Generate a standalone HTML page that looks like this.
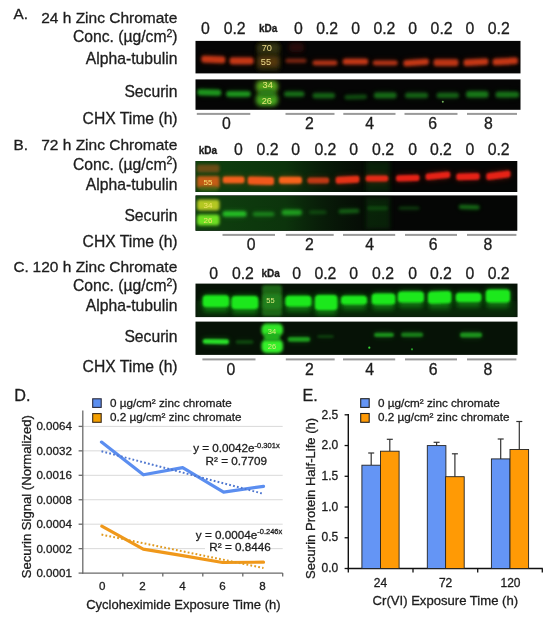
<!DOCTYPE html>
<html><head><meta charset="utf-8"><style>
html,body{margin:0;padding:0;background:#fff;}
body{width:550px;height:619px;overflow:hidden;}
svg{display:block;font-family:'Liberation Sans', Arial, sans-serif;}
text{stroke:#1d1d1d;stroke-width:0.3px;}
text.lad{stroke:none;}
</style></head><body>
<svg width="550" height="619" viewBox="0 0 550 619">
<defs>
<clipPath id="cA1"><rect x="195.5" y="40.9" width="325" height="32.5"/></clipPath>
<clipPath id="cA2"><rect x="195.5" y="79.4" width="325" height="30.4"/></clipPath>
<clipPath id="cB1"><rect x="195.5" y="161" width="321.8" height="31"/></clipPath>
<clipPath id="cB2"><rect x="195.5" y="195.4" width="321.8" height="35.4"/></clipPath>
<clipPath id="cC1"><rect x="195.5" y="283.6" width="322" height="33.5"/></clipPath>
<clipPath id="cC2"><rect x="195.5" y="321.6" width="322" height="33.3"/></clipPath>
<filter id="b13" x="-50%" y="-200%" width="200%" height="500%"><feGaussianBlur stdDeviation="1.3"/></filter>
<filter id="b12" x="-50%" y="-200%" width="200%" height="500%"><feGaussianBlur stdDeviation="1.2"/></filter>
<filter id="b15" x="-50%" y="-200%" width="200%" height="500%"><feGaussianBlur stdDeviation="1.5"/></filter>
<filter id="b2" x="-50%" y="-200%" width="200%" height="500%"><feGaussianBlur stdDeviation="2"/></filter>
<filter id="b25" x="-50%" y="-200%" width="200%" height="500%"><feGaussianBlur stdDeviation="2.5"/></filter>
<filter id="b3" x="-50%" y="-200%" width="200%" height="500%"><feGaussianBlur stdDeviation="3"/></filter>
<linearGradient id="gB" x1="0" x2="1" y1="0" y2="0"><stop offset="0" stop-color="#0f400f" stop-opacity="1"/><stop offset="0.45" stop-color="#0c340c" stop-opacity="1"/><stop offset="0.62" stop-color="#092209" stop-opacity="0.85"/><stop offset="1" stop-color="#061206" stop-opacity="0"/></linearGradient>
</defs>
<text x="13.6" y="19.4" font-size="15.3" text-anchor="start" fill="#1d1d1d" >A.</text>
<text x="177.3" y="22.6" font-size="15.5" text-anchor="end" fill="#1d1d1d" >24 h Zinc Chromate</text>
<text x="177.6" y="42" font-size="15.7" text-anchor="end" fill="#1d1d1d">Conc. (µg/cm<tspan font-size="10.5" dy="-5.5">2</tspan><tspan dy="5.5">)</tspan></text>
<text x="177.4" y="64.2" font-size="15.7" text-anchor="end" fill="#1d1d1d" >Alpha-tubulin</text>
<text x="177.6" y="96.7" font-size="15.7" text-anchor="end" fill="#1d1d1d" >Securin</text>
<text x="177.6" y="123.5" font-size="15.7" text-anchor="end" fill="#1d1d1d" >CHX Time (h)</text>
<text x="13.6" y="149.9" font-size="15.3" text-anchor="start" fill="#1d1d1d" >B.</text>
<text x="177.3" y="150.2" font-size="15.5" text-anchor="end" fill="#1d1d1d" >72 h Zinc Chromate</text>
<text x="177.6" y="169.8" font-size="15.7" text-anchor="end" fill="#1d1d1d">Conc. (µg/cm<tspan font-size="10.5" dy="-5.5">2</tspan><tspan dy="5.5">)</tspan></text>
<text x="177.4" y="189.5" font-size="15.7" text-anchor="end" fill="#1d1d1d" >Alpha-tubulin</text>
<text x="177.6" y="220.6" font-size="15.7" text-anchor="end" fill="#1d1d1d" >Securin</text>
<text x="177.6" y="246.5" font-size="15.7" text-anchor="end" fill="#1d1d1d" >CHX Time (h)</text>
<text x="13.4" y="272" font-size="15.3" text-anchor="start" fill="#1d1d1d" >C.</text>
<text x="177.3" y="272" font-size="15.5" text-anchor="end" fill="#1d1d1d" >120 h Zinc Chromate</text>
<text x="177.6" y="291" font-size="15.7" text-anchor="end" fill="#1d1d1d">Conc. (µg/cm<tspan font-size="10.5" dy="-5.5">2</tspan><tspan dy="5.5">)</tspan></text>
<text x="177.4" y="310.9" font-size="15.7" text-anchor="end" fill="#1d1d1d" >Alpha-tubulin</text>
<text x="177.6" y="342.4" font-size="15.7" text-anchor="end" fill="#1d1d1d" >Securin</text>
<text x="177.6" y="372.3" font-size="15.7" text-anchor="end" fill="#1d1d1d" >CHX Time (h)</text>
<text x="201.0" y="33.8" font-size="15.8" text-anchor="start" fill="#1d1d1d" >0</text>
<text x="223.70000000000002" y="33.8" font-size="15.8" text-anchor="start" fill="#1d1d1d" >0.2</text>
<text x="259.0" y="31.9" font-size="10" text-anchor="start" fill="#1d1d1d" font-weight="bold" >kDa</text>
<text x="293.90000000000003" y="33.8" font-size="15.8" text-anchor="start" fill="#1d1d1d" >0</text>
<text x="316.2" y="33.8" font-size="15.8" text-anchor="start" fill="#1d1d1d" >0.2</text>
<text x="351.2" y="33.8" font-size="15.8" text-anchor="start" fill="#1d1d1d" >0</text>
<text x="373.40000000000003" y="33.8" font-size="15.8" text-anchor="start" fill="#1d1d1d" >0.2</text>
<text x="408.3" y="33.8" font-size="15.8" text-anchor="start" fill="#1d1d1d" >0</text>
<text x="430.6" y="33.8" font-size="15.8" text-anchor="start" fill="#1d1d1d" >0.2</text>
<text x="465.6" y="33.8" font-size="15.8" text-anchor="start" fill="#1d1d1d" >0</text>
<text x="487.8" y="33.8" font-size="15.8" text-anchor="start" fill="#1d1d1d" >0.2</text>
<text x="198.8" y="153.5" font-size="10" text-anchor="start" fill="#1d1d1d" font-weight="bold" >kDa</text>
<text x="234.0" y="155" font-size="15.8" text-anchor="start" fill="#1d1d1d" >0</text>
<text x="256.6" y="155" font-size="15.8" text-anchor="start" fill="#1d1d1d" >0.2</text>
<text x="291.2" y="155" font-size="15.8" text-anchor="start" fill="#1d1d1d" >0</text>
<text x="314.40000000000003" y="155" font-size="15.8" text-anchor="start" fill="#1d1d1d" >0.2</text>
<text x="349.2" y="155" font-size="15.8" text-anchor="start" fill="#1d1d1d" >0</text>
<text x="372.1" y="155" font-size="15.8" text-anchor="start" fill="#1d1d1d" >0.2</text>
<text x="408.2" y="155" font-size="15.8" text-anchor="start" fill="#1d1d1d" >0</text>
<text x="429.90000000000003" y="155" font-size="15.8" text-anchor="start" fill="#1d1d1d" >0.2</text>
<text x="465.5" y="155" font-size="15.8" text-anchor="start" fill="#1d1d1d" >0</text>
<text x="487.7" y="155" font-size="15.8" text-anchor="start" fill="#1d1d1d" >0.2</text>
<text x="209.20000000000002" y="279.4" font-size="15.8" text-anchor="start" fill="#1d1d1d" >0</text>
<text x="231.9" y="279.4" font-size="15.8" text-anchor="start" fill="#1d1d1d" >0.2</text>
<text x="261.5" y="277.2" font-size="10" text-anchor="start" fill="#1d1d1d" font-weight="bold" >kDa</text>
<text x="292.2" y="279.4" font-size="15.8" text-anchor="start" fill="#1d1d1d" >0</text>
<text x="314.40000000000003" y="279.4" font-size="15.8" text-anchor="start" fill="#1d1d1d" >0.2</text>
<text x="349.2" y="279.4" font-size="15.8" text-anchor="start" fill="#1d1d1d" >0</text>
<text x="372.1" y="279.4" font-size="15.8" text-anchor="start" fill="#1d1d1d" >0.2</text>
<text x="408.2" y="279.4" font-size="15.8" text-anchor="start" fill="#1d1d1d" >0</text>
<text x="429.90000000000003" y="279.4" font-size="15.8" text-anchor="start" fill="#1d1d1d" >0.2</text>
<text x="465.5" y="279.4" font-size="15.8" text-anchor="start" fill="#1d1d1d" >0</text>
<text x="487.7" y="279.4" font-size="15.8" text-anchor="start" fill="#1d1d1d" >0.2</text>
<rect x="196.8" y="112.9" width="53.5" height="2" fill="#9a9a9a" />
<rect x="285.5" y="112.9" width="49.0" height="2" fill="#9a9a9a" />
<rect x="343.3" y="112.9" width="52.19999999999999" height="2" fill="#9a9a9a" />
<rect x="404.5" y="112.9" width="53.0" height="2" fill="#9a9a9a" />
<rect x="467" y="112.9" width="50" height="2" fill="#9a9a9a" />
<text x="226.5" y="128.6" font-size="15.8" text-anchor="middle" fill="#1d1d1d" >0</text>
<text x="309.3" y="128.6" font-size="15.8" text-anchor="middle" fill="#1d1d1d" >2</text>
<text x="369.7" y="128.6" font-size="15.8" text-anchor="middle" fill="#1d1d1d" >4</text>
<text x="432.6" y="128.6" font-size="15.8" text-anchor="middle" fill="#1d1d1d" >6</text>
<text x="488.4" y="128.6" font-size="15.8" text-anchor="middle" fill="#1d1d1d" >8</text>
<rect x="222.5" y="233.9" width="52.5" height="2" fill="#9a9a9a" />
<rect x="285.8" y="233.9" width="47.89999999999998" height="2" fill="#9a9a9a" />
<rect x="343" y="233.9" width="52.19999999999999" height="2" fill="#9a9a9a" />
<rect x="405" y="233.9" width="52" height="2" fill="#9a9a9a" />
<rect x="467" y="233.9" width="49.39999999999998" height="2" fill="#9a9a9a" />
<text x="251.1" y="250.2" font-size="15.8" text-anchor="middle" fill="#1d1d1d" >0</text>
<text x="309.5" y="250.2" font-size="15.8" text-anchor="middle" fill="#1d1d1d" >2</text>
<text x="369.6" y="250.2" font-size="15.8" text-anchor="middle" fill="#1d1d1d" >4</text>
<text x="433.1" y="250.2" font-size="15.8" text-anchor="middle" fill="#1d1d1d" >6</text>
<text x="487.9" y="250.2" font-size="15.8" text-anchor="middle" fill="#1d1d1d" >8</text>
<rect x="202.4" y="358.4" width="53.099999999999994" height="2" fill="#9a9a9a" />
<rect x="285.8" y="358.4" width="48.89999999999998" height="2" fill="#9a9a9a" />
<rect x="343" y="358.4" width="52.19999999999999" height="2" fill="#9a9a9a" />
<rect x="405" y="358.4" width="52" height="2" fill="#9a9a9a" />
<rect x="467" y="358.4" width="49.39999999999998" height="2" fill="#9a9a9a" />
<text x="230.9" y="374.5" font-size="15.8" text-anchor="middle" fill="#1d1d1d" >0</text>
<text x="309.5" y="374.5" font-size="15.8" text-anchor="middle" fill="#1d1d1d" >2</text>
<text x="369.6" y="374.5" font-size="15.8" text-anchor="middle" fill="#1d1d1d" >4</text>
<text x="433.1" y="374.5" font-size="15.8" text-anchor="middle" fill="#1d1d1d" >6</text>
<text x="487.9" y="374.5" font-size="15.8" text-anchor="middle" fill="#1d1d1d" >8</text>
<rect x="195.5" y="40.9" width="325" height="32.5" fill="#050505" />
<g clip-path="url(#cA1)">
<rect x="257" y="43" width="23" height="28" rx="4" fill="#262608" opacity="0.9" filter="url(#b2)"/>
<rect x="258" y="43.5" width="21" height="8.5" rx="4" fill="#3a3a12" opacity="0.8" filter="url(#b2)"/>
<rect x="258" y="56.5" width="21" height="10.5" rx="4" fill="#5a3a10" opacity="0.9" filter="url(#b2)"/>
<rect x="289" y="43" width="15" height="9" rx="4" fill="#3a0a08" opacity="0.7" filter="url(#b2)"/>
<path d="M203.7,55.7 L223.0,56.5 Q225.2,56.5 225.2,58.7 L225.2,61.099999999999994 Q225.2,63.3 223.0,63.3 L203.7,62.5 Q201.5,62.5 201.5,60.3 L201.5,57.900000000000006 Q201.5,55.7 203.7,55.7 Z" fill="#d23a18" opacity="0.276" filter="url(#b3)"/>
<path d="M203.7,55.7 L223.0,56.5 Q225.2,56.5 225.2,58.7 L225.2,61.099999999999994 Q225.2,63.3 223.0,63.3 L203.7,62.5 Q201.5,62.5 201.5,60.3 L201.5,57.900000000000006 Q201.5,55.7 203.7,55.7 Z" fill="#d23a18" opacity="0.92" filter="url(#b15)"/>
<path d="M231.89999999999998,57.6 L251.3,57.6 Q253.5,57.6 253.5,59.800000000000004 L253.5,62.0 Q253.5,64.2 251.3,64.2 L231.89999999999998,64.2 Q229.7,64.2 229.7,62.0 L229.7,59.800000000000004 Q229.7,57.6 231.89999999999998,57.6 Z" fill="#d23a18" opacity="0.276" filter="url(#b3)"/>
<path d="M231.89999999999998,57.6 L251.3,57.6 Q253.5,57.6 253.5,59.800000000000004 L253.5,62.0 Q253.5,64.2 251.3,64.2 L231.89999999999998,64.2 Q229.7,64.2 229.7,62.0 L229.7,59.800000000000004 Q229.7,57.6 231.89999999999998,57.6 Z" fill="#d23a18" opacity="0.92" filter="url(#b15)"/>
<path d="M287.59999999999997,58.8 L304.40000000000003,58.8 Q306.6,58.8 306.6,61.0 L306.6,60.599999999999994 Q306.6,62.8 304.40000000000003,62.8 L287.59999999999997,62.8 Q285.4,62.8 285.4,60.599999999999994 L285.4,61.0 Q285.4,58.8 287.59999999999997,58.8 Z" fill="#d23a18" opacity="0.1656" filter="url(#b3)"/>
<path d="M287.59999999999997,58.8 L304.40000000000003,58.8 Q306.6,58.8 306.6,61.0 L306.6,60.599999999999994 Q306.6,62.8 304.40000000000003,62.8 L287.59999999999997,62.8 Q285.4,62.8 285.4,60.599999999999994 L285.4,61.0 Q285.4,58.8 287.59999999999997,58.8 Z" fill="#d23a18" opacity="0.552" filter="url(#b15)"/>
<path d="M314.8,60.5 L335.2,60.5 Q337.4,60.5 337.4,62.7 L337.4,63.0 Q337.4,65.2 335.2,65.2 L314.8,65.2 Q312.6,65.2 312.6,63.0 L312.6,62.7 Q312.6,60.5 314.8,60.5 Z" fill="#d23a18" opacity="0.2484" filter="url(#b3)"/>
<path d="M314.8,60.5 L335.2,60.5 Q337.4,60.5 337.4,62.7 L337.4,63.0 Q337.4,65.2 335.2,65.2 L314.8,65.2 Q312.6,65.2 312.6,63.0 L312.6,62.7 Q312.6,60.5 314.8,60.5 Z" fill="#d23a18" opacity="0.8280000000000001" filter="url(#b15)"/>
<path d="M345.0,58.8 L365.90000000000003,58.8 Q368.1,58.8 368.1,61.0 L368.1,62.3 Q368.1,64.5 365.90000000000003,64.5 L345.0,64.5 Q342.8,64.5 342.8,62.3 L342.8,61.0 Q342.8,58.8 345.0,58.8 Z" fill="#d23a18" opacity="0.276" filter="url(#b3)"/>
<path d="M345.0,58.8 L365.90000000000003,58.8 Q368.1,58.8 368.1,61.0 L368.1,62.3 Q368.1,64.5 365.90000000000003,64.5 L345.0,64.5 Q342.8,64.5 342.8,62.3 L342.8,61.0 Q342.8,58.8 345.0,58.8 Z" fill="#d23a18" opacity="0.92" filter="url(#b15)"/>
<path d="M375.0,60.5 L395.5,60.5 Q397.7,60.5 397.7,62.7 L397.7,63.0 Q397.7,65.2 395.5,65.2 L375.0,65.2 Q372.8,65.2 372.8,63.0 L372.8,62.7 Q372.8,60.5 375.0,60.5 Z" fill="#d23a18" opacity="0.2484" filter="url(#b3)"/>
<path d="M375.0,60.5 L395.5,60.5 Q397.7,60.5 397.7,62.7 L397.7,63.0 Q397.7,65.2 395.5,65.2 L375.0,65.2 Q372.8,65.2 372.8,63.0 L372.8,62.7 Q372.8,60.5 375.0,60.5 Z" fill="#d23a18" opacity="0.8280000000000001" filter="url(#b15)"/>
<path d="M405.7,60.3 L426.6,58.8 Q428.8,58.8 428.8,61.0 L428.8,62.599999999999994 Q428.8,64.8 426.6,64.8 L405.7,66.3 Q403.5,66.3 403.5,64.1 L403.5,62.5 Q403.5,60.3 405.7,60.3 Z" fill="#d23a18" opacity="0.276" filter="url(#b3)"/>
<path d="M405.7,60.3 L426.6,58.8 Q428.8,58.8 428.8,61.0 L428.8,62.599999999999994 Q428.8,64.8 426.6,64.8 L405.7,66.3 Q403.5,66.3 403.5,64.1 L403.5,62.5 Q403.5,60.3 405.7,60.3 Z" fill="#d23a18" opacity="0.92" filter="url(#b15)"/>
<path d="M435.9,59.2 L456.1,59.2 Q458.3,59.2 458.3,61.400000000000006 L458.3,63.8 Q458.3,66 456.1,66 L435.9,66 Q433.7,66 433.7,63.8 L433.7,61.400000000000006 Q433.7,59.2 435.9,59.2 Z" fill="#d23a18" opacity="0.2622" filter="url(#b3)"/>
<path d="M435.9,59.2 L456.1,59.2 Q458.3,59.2 458.3,61.400000000000006 L458.3,63.8 Q458.3,66 456.1,66 L435.9,66 Q433.7,66 433.7,63.8 L433.7,61.400000000000006 Q433.7,59.2 435.9,59.2 Z" fill="#d23a18" opacity="0.874" filter="url(#b15)"/>
<path d="M465.9,59.6 L486.1,58.4 Q488.3,58.4 488.3,60.6 L488.3,62.599999999999994 Q488.3,64.8 486.1,64.8 L465.9,66 Q463.7,66 463.7,63.8 L463.7,61.800000000000004 Q463.7,59.6 465.9,59.6 Z" fill="#d23a18" opacity="0.276" filter="url(#b3)"/>
<path d="M465.9,59.6 L486.1,58.4 Q488.3,58.4 488.3,60.6 L488.3,62.599999999999994 Q488.3,64.8 486.1,64.8 L465.9,66 Q463.7,66 463.7,63.8 L463.7,61.800000000000004 Q463.7,59.6 465.9,59.6 Z" fill="#d23a18" opacity="0.92" filter="url(#b15)"/>
<path d="M494.9,58.8 L515.5999999999999,57.599999999999994 Q517.8,57.599999999999994 517.8,59.8 L517.8,61.89999999999999 Q517.8,64.1 515.5999999999999,64.1 L494.9,65.3 Q492.7,65.3 492.7,63.099999999999994 L492.7,61.0 Q492.7,58.8 494.9,58.8 Z" fill="#d23a18" opacity="0.276" filter="url(#b3)"/>
<path d="M494.9,58.8 L515.5999999999999,57.599999999999994 Q517.8,57.599999999999994 517.8,59.8 L517.8,61.89999999999999 Q517.8,64.1 515.5999999999999,64.1 L494.9,65.3 Q492.7,65.3 492.7,63.099999999999994 L492.7,61.0 Q492.7,58.8 494.9,58.8 Z" fill="#d23a18" opacity="0.92" filter="url(#b15)"/>
<text x="266.8" y="50.6" font-size="9.2" text-anchor="middle" fill="#ecdc8c" class="lad">70</text>
<text x="265.9" y="65" font-size="9.2" text-anchor="middle" fill="#ecdc8c" class="lad">55</text>
</g>
<rect x="195.5" y="79.4" width="325" height="30.4" fill="#050505" />
<g clip-path="url(#cA2)">
<rect x="256" y="80.5" width="22" height="12.0" rx="5" fill="#58a41a" opacity="1" filter="url(#b2)"/>
<rect x="256" y="93.5" width="22" height="12.5" rx="5" fill="#46a41e" opacity="1" filter="url(#b2)"/>
<rect x="259" y="89" width="16" height="8" rx="3" fill="#2a7a14" opacity="1" filter="url(#b2)"/>
<path d="M199.6,89.3 L218.9,89.8 Q221.1,89.8 221.1,92.0 L221.1,93.6 Q221.1,95.8 218.9,95.8 L199.6,95.3 Q197.4,95.3 197.4,93.1 L197.4,91.5 Q197.4,89.3 199.6,89.3 Z" fill="#22b422" opacity="0.24" filter="url(#b3)"/>
<path d="M199.6,89.3 L218.9,89.8 Q221.1,89.8 221.1,92.0 L221.1,93.6 Q221.1,95.8 218.9,95.8 L199.6,95.3 Q197.4,95.3 197.4,93.1 L197.4,91.5 Q197.4,89.3 199.6,89.3 Z" fill="#22b422" opacity="0.8" filter="url(#b15)"/>
<path d="M228.5,91.3 L248.4,91.3 Q250.6,91.3 250.6,93.5 L250.6,94.6 Q250.6,96.8 248.4,96.8 L228.5,96.8 Q226.3,96.8 226.3,94.6 L226.3,93.5 Q226.3,91.3 228.5,91.3 Z" fill="#22b422" opacity="0.24" filter="url(#b3)"/>
<path d="M228.5,91.3 L248.4,91.3 Q250.6,91.3 250.6,93.5 L250.6,94.6 Q250.6,96.8 248.4,96.8 L228.5,96.8 Q226.3,96.8 226.3,94.6 L226.3,93.5 Q226.3,91.3 228.5,91.3 Z" fill="#22b422" opacity="0.8" filter="url(#b15)"/>
<path d="M286.4,91.5 L302.1,91.5 Q304.3,91.5 304.3,93.7 L304.3,94.39999999999999 Q304.3,96.6 302.1,96.6 L286.4,96.6 Q284.2,96.6 284.2,94.39999999999999 L284.2,93.7 Q284.2,91.5 286.4,91.5 Z" fill="#22b422" opacity="0.16799999999999998" filter="url(#b3)"/>
<path d="M286.4,91.5 L302.1,91.5 Q304.3,91.5 304.3,93.7 L304.3,94.39999999999999 Q304.3,96.6 302.1,96.6 L286.4,96.6 Q284.2,96.6 284.2,94.39999999999999 L284.2,93.7 Q284.2,91.5 286.4,91.5 Z" fill="#22b422" opacity="0.5599999999999999" filter="url(#b15)"/>
<path d="M314.8,93 L332.8,93 Q335,93 335,95.2 L335,96.1 Q335,98.3 332.8,98.3 L314.8,98.3 Q312.6,98.3 312.6,96.1 L312.6,95.2 Q312.6,93 314.8,93 Z" fill="#22b422" opacity="0.144" filter="url(#b3)"/>
<path d="M314.8,93 L332.8,93 Q335,93 335,95.2 L335,96.1 Q335,98.3 332.8,98.3 L314.8,98.3 Q312.6,98.3 312.6,96.1 L312.6,95.2 Q312.6,93 314.8,93 Z" fill="#22b422" opacity="0.48" filter="url(#b15)"/>
<path d="M346.7,95 L364.8,94.5 Q367,94.5 367,96.7 L367,96.7 Q367,98.9 364.8,98.9 L346.7,99.4 Q344.5,99.4 344.5,97.2 L344.5,97.2 Q344.5,95 346.7,95 Z" fill="#22b422" opacity="0.10800000000000001" filter="url(#b3)"/>
<path d="M346.7,95 L364.8,94.5 Q367,94.5 367,96.7 L367,96.7 Q367,98.9 364.8,98.9 L346.7,99.4 Q344.5,99.4 344.5,97.2 L344.5,97.2 Q344.5,95 346.7,95 Z" fill="#22b422" opacity="0.36000000000000004" filter="url(#b15)"/>
<path d="M376.2,92.6 L394.3,92.6 Q396.5,92.6 396.5,94.8 L396.5,96.1 Q396.5,98.3 394.3,98.3 L376.2,98.3 Q374,98.3 374,96.1 L374,94.8 Q374,92.6 376.2,92.6 Z" fill="#22b422" opacity="0.156" filter="url(#b3)"/>
<path d="M376.2,92.6 L394.3,92.6 Q396.5,92.6 396.5,94.8 L396.5,96.1 Q396.5,98.3 394.3,98.3 L376.2,98.3 Q374,98.3 374,96.1 L374,94.8 Q374,92.6 376.2,92.6 Z" fill="#22b422" opacity="0.52" filter="url(#b15)"/>
<path d="M407.4,92.7 L425.8,92.7 Q428,92.7 428,94.9 L428,95.89999999999999 Q428,98.1 425.8,98.1 L407.4,98.1 Q405.2,98.1 405.2,95.89999999999999 L405.2,94.9 Q405.2,92.7 407.4,92.7 Z" fill="#22b422" opacity="0.144" filter="url(#b3)"/>
<path d="M407.4,92.7 L425.8,92.7 Q428,92.7 428,94.9 L428,95.89999999999999 Q428,98.1 425.8,98.1 L407.4,98.1 Q405.2,98.1 405.2,95.89999999999999 L405.2,94.9 Q405.2,92.7 407.4,92.7 Z" fill="#22b422" opacity="0.48" filter="url(#b15)"/>
<path d="M438.9,92.7 L456.6,92.7 Q458.8,92.7 458.8,94.9 L458.8,95.89999999999999 Q458.8,98.1 456.6,98.1 L438.9,98.1 Q436.7,98.1 436.7,95.89999999999999 L436.7,94.9 Q436.7,92.7 438.9,92.7 Z" fill="#22b422" opacity="0.144" filter="url(#b3)"/>
<path d="M438.9,92.7 L456.6,92.7 Q458.8,92.7 458.8,94.9 L458.8,95.89999999999999 Q458.8,98.1 456.6,98.1 L438.9,98.1 Q436.7,98.1 436.7,95.89999999999999 L436.7,94.9 Q436.7,92.7 438.9,92.7 Z" fill="#22b422" opacity="0.48" filter="url(#b15)"/>
<path d="M468.4,91.3 L486.1,91.3 Q488.3,91.3 488.3,93.5 L488.3,95.39999999999999 Q488.3,97.6 486.1,97.6 L468.4,97.6 Q466.2,97.6 466.2,95.39999999999999 L466.2,93.5 Q466.2,91.3 468.4,91.3 Z" fill="#22b422" opacity="0.18000000000000002" filter="url(#b3)"/>
<path d="M468.4,91.3 L486.1,91.3 Q488.3,91.3 488.3,93.5 L488.3,95.39999999999999 Q488.3,97.6 486.1,97.6 L468.4,97.6 Q466.2,97.6 466.2,95.39999999999999 L466.2,93.5 Q466.2,91.3 468.4,91.3 Z" fill="#22b422" opacity="0.6000000000000001" filter="url(#b15)"/>
<path d="M497.9,91.8 L516.8,91.8 Q519,91.8 519,94.0 L519,95.39999999999999 Q519,97.6 516.8,97.6 L497.9,97.6 Q495.7,97.6 495.7,95.39999999999999 L495.7,94.0 Q495.7,91.8 497.9,91.8 Z" fill="#22b422" opacity="0.16799999999999998" filter="url(#b3)"/>
<path d="M497.9,91.8 L516.8,91.8 Q519,91.8 519,94.0 L519,95.39999999999999 Q519,97.6 516.8,97.6 L497.9,97.6 Q495.7,97.6 495.7,95.39999999999999 L495.7,94.0 Q495.7,91.8 497.9,91.8 Z" fill="#22b422" opacity="0.5599999999999999" filter="url(#b15)"/>
<circle cx="442.8" cy="101.8" r="1" fill="#90e070" opacity="0.8"/>
<text x="267.7" y="87.6" font-size="9.2" text-anchor="middle" fill="#e6e878" class="lad">34</text>
<text x="266.8" y="103.7" font-size="9.2" text-anchor="middle" fill="#e6e878" class="lad">26</text>
</g>
<rect x="195.5" y="161" width="321.8" height="31" fill="#050605" />
<g clip-path="url(#cB1)">
<rect x="195.5" y="161" width="200" height="31" fill="url(#gB)"/>
<rect x="197" y="164.5" width="22.5" height="8.0" rx="2" fill="#7a5018" opacity="0.85" filter="url(#b15)"/>
<rect x="366" y="161" width="24" height="31" fill="#0c300c" opacity="0.6" filter="url(#b2)"/>
<rect x="197" y="176" width="22.5" height="12" rx="2" fill="#c45c12" opacity="1" filter="url(#b15)"/>
<rect x="199" y="186" width="19" height="5" rx="2" fill="#4a6a14" opacity="0.7" filter="url(#b15)"/>
<path d="M224.89999999999998,176.5 L242.3,176.5 Q244.5,176.5 244.5,178.7 L244.5,181.0 Q244.5,183.2 242.3,183.2 L224.89999999999998,183.2 Q222.7,183.2 222.7,181.0 L222.7,178.7 Q222.7,176.5 224.89999999999998,176.5 Z" fill="#f2601a" opacity="0.35" filter="url(#b3)"/>
<path d="M224.89999999999998,176.5 L242.3,176.5 Q244.5,176.5 244.5,178.7 L244.5,181.0 Q244.5,183.2 242.3,183.2 L224.89999999999998,183.2 Q222.7,183.2 222.7,181.0 L222.7,178.7 Q222.7,176.5 224.89999999999998,176.5 Z" fill="#f2601a" opacity="1" filter="url(#b13)"/>
<path d="M250.0,176.5 L271.8,177.0 Q274,177.0 274,179.2 L274,182.8 Q274,185.0 271.8,185.0 L250.0,184.5 Q247.8,184.5 247.8,182.3 L247.8,178.7 Q247.8,176.5 250.0,176.5 Z" fill="#f0581a" opacity="0.35" filter="url(#b3)"/>
<path d="M250.0,176.5 L271.8,177.0 Q274,177.0 274,179.2 L274,182.8 Q274,185.0 271.8,185.0 L250.0,184.5 Q247.8,184.5 247.8,182.3 L247.8,178.7 Q247.8,176.5 250.0,176.5 Z" fill="#f0581a" opacity="1" filter="url(#b13)"/>
<path d="M281.2,176.7 L299.7,176.7 Q301.9,176.7 301.9,178.89999999999998 L301.9,181.60000000000002 Q301.9,183.8 299.7,183.8 L281.2,183.8 Q279,183.8 279,181.60000000000002 L279,178.89999999999998 Q279,176.7 281.2,176.7 Z" fill="#f6641a" opacity="0.35" filter="url(#b3)"/>
<path d="M281.2,176.7 L299.7,176.7 Q301.9,176.7 301.9,178.89999999999998 L301.9,181.60000000000002 Q301.9,183.8 299.7,183.8 L281.2,183.8 Q279,183.8 279,181.60000000000002 L279,178.89999999999998 Q279,176.7 281.2,176.7 Z" fill="#f6641a" opacity="1" filter="url(#b13)"/>
<path d="M309.59999999999997,177.5 L326.90000000000003,177.5 Q329.1,177.5 329.1,179.7 L329.1,181.20000000000002 Q329.1,183.4 326.90000000000003,183.4 L309.59999999999997,183.4 Q307.4,183.4 307.4,181.20000000000002 L307.4,179.7 Q307.4,177.5 309.59999999999997,177.5 Z" fill="#d83c18" opacity="0.2975" filter="url(#b3)"/>
<path d="M309.59999999999997,177.5 L326.90000000000003,177.5 Q329.1,177.5 329.1,179.7 L329.1,181.20000000000002 Q329.1,183.4 326.90000000000003,183.4 L309.59999999999997,183.4 Q307.4,183.4 307.4,181.20000000000002 L307.4,179.7 Q307.4,177.5 309.59999999999997,177.5 Z" fill="#d83c18" opacity="0.85" filter="url(#b13)"/>
<path d="M337.9,176.8 L357.2,175.8 Q359.4,175.8 359.4,178.0 L359.4,180.60000000000002 Q359.4,182.8 357.2,182.8 L337.9,183.8 Q335.7,183.8 335.7,181.60000000000002 L335.7,179.0 Q335.7,176.8 337.9,176.8 Z" fill="#e43018" opacity="0.35" filter="url(#b3)"/>
<path d="M337.9,176.8 L357.2,175.8 Q359.4,175.8 359.4,178.0 L359.4,180.60000000000002 Q359.4,182.8 357.2,182.8 L337.9,183.8 Q335.7,183.8 335.7,181.60000000000002 L335.7,179.0 Q335.7,176.8 337.9,176.8 Z" fill="#e43018" opacity="1" filter="url(#b13)"/>
<path d="M367.9,175.5 L386.0,175.5 Q388.2,175.5 388.2,177.7 L388.2,179.3 Q388.2,181.5 386.0,181.5 L367.9,181.5 Q365.7,181.5 365.7,179.3 L365.7,177.7 Q365.7,175.5 367.9,175.5 Z" fill="#e42a18" opacity="0.35" filter="url(#b3)"/>
<path d="M367.9,175.5 L386.0,175.5 Q388.2,175.5 388.2,177.7 L388.2,179.3 Q388.2,181.5 386.0,181.5 L367.9,181.5 Q365.7,181.5 365.7,179.3 L365.7,177.7 Q365.7,175.5 367.9,175.5 Z" fill="#e42a18" opacity="1" filter="url(#b13)"/>
<path d="M398.3,175.3 L417.3,174.8 Q419.5,174.8 419.5,177.0 L419.5,178.8 Q419.5,181.0 417.3,181.0 L398.3,181.5 Q396.1,181.5 396.1,179.3 L396.1,177.5 Q396.1,175.3 398.3,175.3 Z" fill="#e62418" opacity="0.35" filter="url(#b3)"/>
<path d="M398.3,175.3 L417.3,174.8 Q419.5,174.8 419.5,177.0 L419.5,178.8 Q419.5,181.0 417.3,181.0 L398.3,181.5 Q396.1,181.5 396.1,179.3 L396.1,177.5 Q396.1,175.3 398.3,175.3 Z" fill="#e62418" opacity="1" filter="url(#b13)"/>
<path d="M427.8,173.6 L448.0,171.6 Q450.2,171.6 450.2,173.79999999999998 L450.2,175.8 Q450.2,178 448.0,178 L427.8,180 Q425.6,180 425.6,177.8 L425.6,175.79999999999998 Q425.6,173.6 427.8,173.6 Z" fill="#e62418" opacity="0.35" filter="url(#b3)"/>
<path d="M427.8,173.6 L448.0,171.6 Q450.2,171.6 450.2,173.79999999999998 L450.2,175.8 Q450.2,178 448.0,178 L427.8,180 Q425.6,180 425.6,177.8 L425.6,175.79999999999998 Q425.6,173.6 427.8,173.6 Z" fill="#e62418" opacity="1" filter="url(#b13)"/>
<path d="M458.5,173.5 L477.5,173.0 Q479.7,173.0 479.7,175.2 L479.7,177.5 Q479.7,179.7 477.5,179.7 L458.5,180.2 Q456.3,180.2 456.3,178.0 L456.3,175.7 Q456.3,173.5 458.5,173.5 Z" fill="#e62418" opacity="0.35" filter="url(#b3)"/>
<path d="M458.5,173.5 L477.5,173.0 Q479.7,173.0 479.7,175.2 L479.7,177.5 Q479.7,179.7 477.5,179.7 L458.5,180.2 Q456.3,180.2 456.3,178.0 L456.3,175.7 Q456.3,173.5 458.5,173.5 Z" fill="#e62418" opacity="1" filter="url(#b13)"/>
<path d="M488.5,173 L508.2,170.5 Q510.4,170.5 510.4,172.7 L510.4,175.3 Q510.4,177.5 508.2,177.5 L488.5,180 Q486.3,180 486.3,177.8 L486.3,175.2 Q486.3,173 488.5,173 Z" fill="#e62418" opacity="0.35" filter="url(#b3)"/>
<path d="M488.5,173 L508.2,170.5 Q510.4,170.5 510.4,172.7 L510.4,175.3 Q510.4,177.5 508.2,177.5 L488.5,180 Q486.3,180 486.3,177.8 L486.3,175.2 Q486.3,173 488.5,173 Z" fill="#e62418" opacity="1" filter="url(#b13)"/>
<text x="208" y="184.6" font-size="8" text-anchor="middle" fill="#f4e070" class="lad">55</text>
</g>
<rect x="195.5" y="195.4" width="321.8" height="35.4" fill="#050605" />
<g clip-path="url(#cB2)">
<rect x="195.5" y="195.4" width="200" height="35.4" fill="url(#gB)"/>
<rect x="197" y="199.5" width="22.5" height="11.0" rx="3" fill="#b4c824" opacity="1" filter="url(#b15)"/>
<rect x="197" y="214.5" width="22.5" height="11.0" rx="3" fill="#6ee022" opacity="1" filter="url(#b15)"/>
<path d="M224.89999999999998,211.2 L244.20000000000002,211.2 Q246.4,211.2 246.4,213.39999999999998 L246.4,214.4 Q246.4,216.6 244.20000000000002,216.6 L224.89999999999998,216.6 Q222.7,216.6 222.7,214.4 L222.7,213.39999999999998 Q222.7,211.2 224.89999999999998,211.2 Z" fill="#2ad82a" opacity="0.24225" filter="url(#b3)"/>
<path d="M224.89999999999998,211.2 L244.20000000000002,211.2 Q246.4,211.2 246.4,213.39999999999998 L246.4,214.4 Q246.4,216.6 244.20000000000002,216.6 L224.89999999999998,216.6 Q222.7,216.6 222.7,214.4 L222.7,213.39999999999998 Q222.7,211.2 224.89999999999998,211.2 Z" fill="#2ad82a" opacity="0.8075" filter="url(#b15)"/>
<path d="M254.89999999999998,212 L272.3,212 Q274.5,212 274.5,214.2 L274.5,214.10000000000002 Q274.5,216.3 272.3,216.3 L254.89999999999998,216.3 Q252.7,216.3 252.7,214.10000000000002 L252.7,214.2 Q252.7,212 254.89999999999998,212 Z" fill="#2ad82a" opacity="0.1275" filter="url(#b3)"/>
<path d="M254.89999999999998,212 L272.3,212 Q274.5,212 274.5,214.2 L274.5,214.10000000000002 Q274.5,216.3 272.3,216.3 L254.89999999999998,216.3 Q252.7,216.3 252.7,214.10000000000002 L252.7,214.2 Q252.7,212 254.89999999999998,212 Z" fill="#2ad82a" opacity="0.425" filter="url(#b15)"/>
<path d="M284.0,209.8 L299.7,209.8 Q301.9,209.8 301.9,212.0 L301.9,213.10000000000002 Q301.9,215.3 299.7,215.3 L284.0,215.3 Q281.8,215.3 281.8,213.10000000000002 L281.8,212.0 Q281.8,209.8 284.0,209.8 Z" fill="#2ad82a" opacity="0.1785" filter="url(#b3)"/>
<path d="M284.0,209.8 L299.7,209.8 Q301.9,209.8 301.9,212.0 L301.9,213.10000000000002 Q301.9,215.3 299.7,215.3 L284.0,215.3 Q281.8,215.3 281.8,213.10000000000002 L281.8,212.0 Q281.8,209.8 284.0,209.8 Z" fill="#2ad82a" opacity="0.595" filter="url(#b15)"/>
<path d="M311.2,210.5 L324.5,210.5 Q326.7,210.5 326.7,212.7 L326.7,211.8 Q326.7,214 324.5,214 L311.2,214 Q309,214 309,211.8 L309,212.7 Q309,210.5 311.2,210.5 Z" fill="#2ad82a" opacity="0.06375" filter="url(#b3)"/>
<path d="M311.2,210.5 L324.5,210.5 Q326.7,210.5 326.7,212.7 L326.7,211.8 Q326.7,214 324.5,214 L311.2,214 Q309,214 309,211.8 L309,212.7 Q309,210.5 311.2,210.5 Z" fill="#2ad82a" opacity="0.2125" filter="url(#b15)"/>
<path d="M340.8,209.2 L357.2,208.7 Q359.4,208.7 359.4,210.89999999999998 L359.4,210.9 Q359.4,213.1 357.2,213.1 L340.8,213.6 Q338.6,213.6 338.6,211.4 L338.6,211.39999999999998 Q338.6,209.2 340.8,209.2 Z" fill="#2ad82a" opacity="0.10200000000000001" filter="url(#b3)"/>
<path d="M340.8,209.2 L357.2,208.7 Q359.4,208.7 359.4,210.89999999999998 L359.4,210.9 Q359.4,213.1 357.2,213.1 L340.8,213.6 Q338.6,213.6 338.6,211.4 L338.6,211.39999999999998 Q338.6,209.2 340.8,209.2 Z" fill="#2ad82a" opacity="0.34" filter="url(#b15)"/>
<path d="M400.8,206.8 L417.3,206.8 Q419.5,206.8 419.5,209.0 L419.5,207.4 Q419.5,209.6 417.3,209.6 L400.8,209.6 Q398.6,209.6 398.6,207.4 L398.6,209.0 Q398.6,206.8 400.8,206.8 Z" fill="#2ad82a" opacity="0.0765" filter="url(#b3)"/>
<path d="M400.8,206.8 L417.3,206.8 Q419.5,206.8 419.5,209.0 L419.5,207.4 Q419.5,209.6 417.3,209.6 L400.8,209.6 Q398.6,209.6 398.6,207.4 L398.6,209.0 Q398.6,206.8 400.8,206.8 Z" fill="#2ad82a" opacity="0.255" filter="url(#b15)"/>
<path d="M461.0,204.8 L477.5,205.3 Q479.7,205.3 479.7,207.5 L479.7,207.3 Q479.7,209.5 477.5,209.5 L461.0,209 Q458.8,209 458.8,206.8 L458.8,207.0 Q458.8,204.8 461.0,204.8 Z" fill="#2ad82a" opacity="0.1275" filter="url(#b3)"/>
<path d="M461.0,204.8 L477.5,205.3 Q479.7,205.3 479.7,207.5 L479.7,207.3 Q479.7,209.5 477.5,209.5 L461.0,209 Q458.8,209 458.8,206.8 L458.8,207.0 Q458.8,204.8 461.0,204.8 Z" fill="#2ad82a" opacity="0.425" filter="url(#b15)"/>
<rect x="366" y="197" width="24" height="32" fill="#103a10" opacity="0.5" filter="url(#b2)"/>
<path d="M369.2,206 L385.8,206 Q388,206 388,208.2 L388,208.3 Q388,210.5 385.8,210.5 L369.2,210.5 Q367,210.5 367,208.3 L367,208.2 Q367,206 369.2,206 Z" fill="#2ad82a" opacity="0.0525" filter="url(#b3)"/>
<path d="M369.2,206 L385.8,206 Q388,206 388,208.2 L388,208.3 Q388,210.5 385.8,210.5 L369.2,210.5 Q367,210.5 367,208.3 L367,208.2 Q367,206 369.2,206 Z" fill="#2ad82a" opacity="0.15" filter="url(#b13)"/>
<text x="208" y="208.3" font-size="8" text-anchor="middle" fill="#f0e468" class="lad">34</text>
<text x="208" y="223.3" font-size="8" text-anchor="middle" fill="#f0e468" class="lad">26</text>
</g>
<rect x="195.5" y="283.6" width="322" height="33.5" fill="#061206" />
<g clip-path="url(#cC1)">
<rect x="196" y="301" width="321" height="17" fill="#0e3a0e" opacity="0.55" filter="url(#b2)"/>
<rect x="262" y="285" width="20" height="31" rx="3" fill="#1a6612" opacity="1" filter="url(#b15)"/>
<rect x="263" y="294" width="18" height="15" rx="3" fill="#22801a" opacity="1" filter="url(#b15)"/>
<rect x="203.7" y="305.1" width="24.400000000000006" height="8.0" rx="2" fill="#18a018" opacity="0.4" filter="url(#b2)"/>
<path d="M206.2,295.3 L225.6,295.3 Q229.1,295.3 229.1,298.8 L229.1,303.6 Q229.1,307.1 225.6,307.1 L206.2,307.1 Q202.7,307.1 202.7,303.6 L202.7,298.8 Q202.7,295.3 206.2,295.3 Z" fill="#1ee81e" opacity="0.5" filter="url(#b3)"/>
<path d="M206.2,295.3 L225.6,295.3 Q229.1,295.3 229.1,298.8 L229.1,303.6 Q229.1,307.1 225.6,307.1 L206.2,307.1 Q202.7,307.1 202.7,303.6 L202.7,298.8 Q202.7,295.3 206.2,295.3 Z" fill="#1ee81e" opacity="1" filter="url(#b13)"/>
<rect x="232.5" y="307" width="24.69999999999999" height="8" rx="2" fill="#18a018" opacity="0.4" filter="url(#b2)"/>
<path d="M235.0,296 L254.7,296 Q258.2,296 258.2,299.5 L258.2,305.5 Q258.2,309 254.7,309 L235.0,309 Q231.5,309 231.5,305.5 L231.5,299.5 Q231.5,296 235.0,296 Z" fill="#1ee81e" opacity="0.5" filter="url(#b3)"/>
<path d="M235.0,296 L254.7,296 Q258.2,296 258.2,299.5 L258.2,305.5 Q258.2,309 254.7,309 L235.0,309 Q231.5,309 231.5,305.5 L231.5,299.5 Q231.5,296 235.0,296 Z" fill="#1ee81e" opacity="1" filter="url(#b13)"/>
<rect x="286.4" y="304.4" width="24.0" height="8.0" rx="2" fill="#18a018" opacity="0.4" filter="url(#b2)"/>
<path d="M288.9,295.7 L307.9,295.7 Q311.4,295.7 311.4,299.2 L311.4,302.9 Q311.4,306.4 307.9,306.4 L288.9,306.4 Q285.4,306.4 285.4,302.9 L285.4,299.2 Q285.4,295.7 288.9,295.7 Z" fill="#1ee81e" opacity="0.5" filter="url(#b3)"/>
<path d="M288.9,295.7 L307.9,295.7 Q311.4,295.7 311.4,299.2 L311.4,302.9 Q311.4,306.4 307.9,306.4 L288.9,306.4 Q285.4,306.4 285.4,302.9 L285.4,299.2 Q285.4,295.7 288.9,295.7 Z" fill="#1ee81e" opacity="1" filter="url(#b13)"/>
<rect x="316" y="308" width="20.399999999999977" height="8" rx="2" fill="#18a018" opacity="0.4" filter="url(#b2)"/>
<path d="M318.5,295 L333.9,295 Q337.4,295 337.4,298.5 L337.4,306.5 Q337.4,310 333.9,310 L318.5,310 Q315,310 315,306.5 L315,298.5 Q315,295 318.5,295 Z" fill="#1ee81e" opacity="0.5" filter="url(#b3)"/>
<path d="M318.5,295 L333.9,295 Q337.4,295 337.4,298.5 L337.4,306.5 Q337.4,310 333.9,310 L318.5,310 Q315,310 315,306.5 L315,298.5 Q315,295 318.5,295 Z" fill="#1ee81e" opacity="1" filter="url(#b13)"/>
<rect x="342" y="302.5" width="24" height="8.0" rx="2" fill="#18a018" opacity="0.4" filter="url(#b2)"/>
<path d="M344.5,295.7 L363.5,295.7 Q367,295.7 367,299.2 L367,301.0 Q367,304.5 363.5,304.5 L344.5,304.5 Q341,304.5 341,301.0 L341,299.2 Q341,295.7 344.5,295.7 Z" fill="#1ee81e" opacity="0.5" filter="url(#b3)"/>
<path d="M344.5,295.7 L363.5,295.7 Q367,295.7 367,299.2 L367,301.0 Q367,304.5 363.5,304.5 L344.5,304.5 Q341,304.5 341,301.0 L341,299.2 Q341,295.7 344.5,295.7 Z" fill="#1ee81e" opacity="1" filter="url(#b13)"/>
<rect x="372.7" y="302.5" width="21.600000000000023" height="8.0" rx="2" fill="#18a018" opacity="0.4" filter="url(#b2)"/>
<path d="M375.2,293.4 L391.8,293.4 Q395.3,293.4 395.3,296.9 L395.3,301.0 Q395.3,304.5 391.8,304.5 L375.2,304.5 Q371.7,304.5 371.7,301.0 L371.7,296.9 Q371.7,293.4 375.2,293.4 Z" fill="#1ee81e" opacity="0.5" filter="url(#b3)"/>
<path d="M375.2,293.4 L391.8,293.4 Q395.3,293.4 395.3,296.9 L395.3,301.0 Q395.3,304.5 391.8,304.5 L375.2,304.5 Q371.7,304.5 371.7,301.0 L371.7,296.9 Q371.7,293.4 375.2,293.4 Z" fill="#1ee81e" opacity="1" filter="url(#b13)"/>
<rect x="398.9" y="300.6" width="24.0" height="8.0" rx="2" fill="#18a018" opacity="0.4" filter="url(#b2)"/>
<path d="M401.4,291.5 L420.4,291.5 Q423.9,291.5 423.9,295.0 L423.9,299.1 Q423.9,302.6 420.4,302.6 L401.4,302.6 Q397.9,302.6 397.9,299.1 L397.9,295.0 Q397.9,291.5 401.4,291.5 Z" fill="#1ee81e" opacity="0.5" filter="url(#b3)"/>
<path d="M401.4,291.5 L420.4,291.5 Q423.9,291.5 423.9,295.0 L423.9,299.1 Q423.9,302.6 420.4,302.6 L401.4,302.6 Q397.9,302.6 397.9,299.1 L397.9,295.0 Q397.9,291.5 401.4,291.5 Z" fill="#1ee81e" opacity="1" filter="url(#b13)"/>
<rect x="429" y="301.8" width="21.399999999999977" height="8.0" rx="2" fill="#18a018" opacity="0.4" filter="url(#b2)"/>
<path d="M431.5,291.5 L447.9,291.0 Q451.4,291.0 451.4,294.5 L451.4,299.8 Q451.4,303.3 447.9,303.3 L431.5,303.8 Q428,303.8 428,300.3 L428,295.0 Q428,291.5 431.5,291.5 Z" fill="#1ee81e" opacity="0.5" filter="url(#b3)"/>
<path d="M431.5,291.5 L447.9,291.0 Q451.4,291.0 451.4,294.5 L451.4,299.8 Q451.4,303.3 447.9,303.3 L431.5,303.8 Q428,303.8 428,300.3 L428,295.0 Q428,291.5 431.5,291.5 Z" fill="#1ee81e" opacity="1" filter="url(#b13)"/>
<rect x="456.8" y="300" width="23.599999999999966" height="8" rx="2" fill="#18a018" opacity="0.4" filter="url(#b2)"/>
<path d="M459.3,292.7 L477.9,292.7 Q481.4,292.7 481.4,296.2 L481.4,298.5 Q481.4,302 477.9,302 L459.3,302 Q455.8,302 455.8,298.5 L455.8,296.2 Q455.8,292.7 459.3,292.7 Z" fill="#1ee81e" opacity="0.5" filter="url(#b3)"/>
<path d="M459.3,292.7 L477.9,292.7 Q481.4,292.7 481.4,296.2 L481.4,298.5 Q481.4,302 477.9,302 L459.3,302 Q455.8,302 455.8,298.5 L455.8,296.2 Q455.8,292.7 459.3,292.7 Z" fill="#1ee81e" opacity="1" filter="url(#b13)"/>
<rect x="486.8" y="300.6" width="22.19999999999999" height="8.0" rx="2" fill="#18a018" opacity="0.4" filter="url(#b2)"/>
<path d="M489.3,289.5 L506.5,289.5 Q510,289.5 510,293.0 L510,299.1 Q510,302.6 506.5,302.6 L489.3,302.6 Q485.8,302.6 485.8,299.1 L485.8,293.0 Q485.8,289.5 489.3,289.5 Z" fill="#1ee81e" opacity="0.5" filter="url(#b3)"/>
<path d="M489.3,289.5 L506.5,289.5 Q510,289.5 510,293.0 L510,299.1 Q510,302.6 506.5,302.6 L489.3,302.6 Q485.8,302.6 485.8,299.1 L485.8,293.0 Q485.8,289.5 489.3,289.5 Z" fill="#1ee81e" opacity="1" filter="url(#b13)"/>
<text x="270.5" y="303.3" font-size="7.5" text-anchor="middle" fill="#d8e880" class="lad">55</text>
</g>
<rect x="195.5" y="321.6" width="322" height="33.3" fill="#061206" />
<g clip-path="url(#cC2)">
<rect x="261.5" y="323.5" width="21.5" height="12.5" rx="5" fill="#30e828" opacity="1" filter="url(#b15)"/>
<rect x="261.5" y="339.5" width="21.5" height="13.5" rx="5" fill="#34f02a" opacity="1" filter="url(#b15)"/>
<rect x="264" y="333" width="16" height="8" rx="3" fill="#22b01c" opacity="1" filter="url(#b15)"/>
<path d="M204.89999999999998,338.9 L226.8,339.29999999999995 Q229,339.29999999999995 229,341.49999999999994 L229,342.0 Q229,344.2 226.8,344.2 L204.89999999999998,343.8 Q202.7,343.8 202.7,341.6 L202.7,341.09999999999997 Q202.7,338.9 204.89999999999998,338.9 Z" fill="#2ae82a" opacity="0.33249999999999996" filter="url(#b3)"/>
<path d="M204.89999999999998,338.9 L226.8,339.29999999999995 Q229,339.29999999999995 229,341.49999999999994 L229,342.0 Q229,344.2 226.8,344.2 L204.89999999999998,343.8 Q202.7,343.8 202.7,341.6 L202.7,341.09999999999997 Q202.7,338.9 204.89999999999998,338.9 Z" fill="#2ae82a" opacity="0.95" filter="url(#b13)"/>
<path d="M237.7,340 L251.4,340 Q253.6,340 253.6,342.2 L253.6,341.8 Q253.6,344 251.4,344 L237.7,344 Q235.5,344 235.5,341.8 L235.5,342.2 Q235.5,340 237.7,340 Z" fill="#2ae82a" opacity="0.06999999999999999" filter="url(#b3)"/>
<path d="M237.7,340 L251.4,340 Q253.6,340 253.6,342.2 L253.6,341.8 Q253.6,344 251.4,344 L237.7,344 Q235.5,344 235.5,341.8 L235.5,342.2 Q235.5,340 237.7,340 Z" fill="#2ae82a" opacity="0.2" filter="url(#b13)"/>
<path d="M289.9,337 L308.0,337 Q310.2,337 310.2,339.2 L310.2,339.6 Q310.2,341.8 308.0,341.8 L289.9,341.8 Q287.7,341.8 287.7,339.6 L287.7,339.2 Q287.7,337 289.9,337 Z" fill="#2ae82a" opacity="0.21" filter="url(#b3)"/>
<path d="M289.9,337 L308.0,337 Q310.2,337 310.2,339.2 L310.2,339.6 Q310.2,341.8 308.0,341.8 L289.9,341.8 Q287.7,341.8 287.7,339.6 L287.7,339.2 Q287.7,337 289.9,337 Z" fill="#2ae82a" opacity="0.6" filter="url(#b13)"/>
<path d="M319.2,335 L331.8,335 Q334,335 334,337.2 L334,335.8 Q334,338 331.8,338 L319.2,338 Q317,338 317,335.8 L317,337.2 Q317,335 319.2,335 Z" fill="#2ae82a" opacity="0.063" filter="url(#b3)"/>
<path d="M319.2,335 L331.8,335 Q334,335 334,337.2 L334,335.8 Q334,338 331.8,338 L319.2,338 Q317,338 317,335.8 L317,337.2 Q317,335 319.2,335 Z" fill="#2ae82a" opacity="0.18" filter="url(#b13)"/>
<path d="M376.2,332.8 L391.8,332.8 Q394,332.8 394,335.0 L394,334.8 Q394,337 391.8,337 L376.2,337 Q374,337 374,334.8 L374,335.0 Q374,332.8 376.2,332.8 Z" fill="#2ae82a" opacity="0.1925" filter="url(#b3)"/>
<path d="M376.2,332.8 L391.8,332.8 Q394,332.8 394,335.0 L394,334.8 Q394,337 391.8,337 L376.2,337 Q374,337 374,334.8 L374,335.0 Q374,332.8 376.2,332.8 Z" fill="#2ae82a" opacity="0.55" filter="url(#b13)"/>
<path d="M403.2,332.5 L421.0,332.5 Q423.2,332.5 423.2,334.7 L423.2,334.8 Q423.2,337 421.0,337 L403.2,337 Q401,337 401,334.8 L401,334.7 Q401,332.5 403.2,332.5 Z" fill="#2ae82a" opacity="0.1575" filter="url(#b3)"/>
<path d="M403.2,332.5 L421.0,332.5 Q423.2,332.5 423.2,334.7 L423.2,334.8 Q423.2,337 421.0,337 L403.2,337 Q401,337 401,334.8 L401,334.7 Q401,332.5 403.2,332.5 Z" fill="#2ae82a" opacity="0.45" filter="url(#b13)"/>
<path d="M462.2,332.5 L479.90000000000003,332.5 Q482.1,332.5 482.1,334.7 L482.1,335.3 Q482.1,337.5 479.90000000000003,337.5 L462.2,337.5 Q460,337.5 460,335.3 L460,334.7 Q460,332.5 462.2,332.5 Z" fill="#2ae82a" opacity="0.1925" filter="url(#b3)"/>
<path d="M462.2,332.5 L479.90000000000003,332.5 Q482.1,332.5 482.1,334.7 L482.1,335.3 Q482.1,337.5 479.90000000000003,337.5 L462.2,337.5 Q460,337.5 460,335.3 L460,334.7 Q460,332.5 462.2,332.5 Z" fill="#2ae82a" opacity="0.55" filter="url(#b13)"/>
<circle cx="369.3" cy="347.7" r="1.1" fill="#40ff40" opacity="0.8"/>
<circle cx="412" cy="349.3" r="1.1" fill="#40ff40" opacity="0.6"/>
<text x="272" y="333.6" font-size="7.5" text-anchor="middle" fill="#d8e880" class="lad">34</text>
<text x="272" y="348.8" font-size="7.5" text-anchor="middle" fill="#d8e880" class="lad">26</text>
</g>
<text x="14.2" y="400.5" font-size="16.2" text-anchor="start" fill="#1d1d1d" >D.</text>
<line x1="82.8" y1="426.4" x2="282.7" y2="426.4" stroke="#d9d9d9" stroke-width="1" />
<line x1="78.6" y1="426.4" x2="82.8" y2="426.4" stroke="#6a6a6a" stroke-width="1.3" />
<text x="71.9" y="430.29999999999995" font-size="11.6" text-anchor="end" fill="#1d1d1d" >0.0064</text>
<line x1="82.8" y1="450.84999999999997" x2="282.7" y2="450.84999999999997" stroke="#d9d9d9" stroke-width="1" />
<line x1="78.6" y1="450.84999999999997" x2="82.8" y2="450.84999999999997" stroke="#6a6a6a" stroke-width="1.3" />
<text x="71.9" y="454.74999999999994" font-size="11.6" text-anchor="end" fill="#1d1d1d" >0.0032</text>
<line x1="82.8" y1="475.29999999999995" x2="282.7" y2="475.29999999999995" stroke="#d9d9d9" stroke-width="1" />
<line x1="78.6" y1="475.29999999999995" x2="82.8" y2="475.29999999999995" stroke="#6a6a6a" stroke-width="1.3" />
<text x="71.9" y="479.19999999999993" font-size="11.6" text-anchor="end" fill="#1d1d1d" >0.0016</text>
<line x1="82.8" y1="499.75" x2="282.7" y2="499.75" stroke="#d9d9d9" stroke-width="1" />
<line x1="78.6" y1="499.75" x2="82.8" y2="499.75" stroke="#6a6a6a" stroke-width="1.3" />
<text x="71.9" y="503.65" font-size="11.6" text-anchor="end" fill="#1d1d1d" >0.0008</text>
<line x1="82.8" y1="524.1999999999999" x2="282.7" y2="524.1999999999999" stroke="#d9d9d9" stroke-width="1" />
<line x1="78.6" y1="524.1999999999999" x2="82.8" y2="524.1999999999999" stroke="#6a6a6a" stroke-width="1.3" />
<text x="71.9" y="528.0999999999999" font-size="11.6" text-anchor="end" fill="#1d1d1d" >0.0004</text>
<line x1="82.8" y1="548.65" x2="282.7" y2="548.65" stroke="#d9d9d9" stroke-width="1" />
<line x1="78.6" y1="548.65" x2="82.8" y2="548.65" stroke="#6a6a6a" stroke-width="1.3" />
<text x="71.9" y="552.55" font-size="11.6" text-anchor="end" fill="#1d1d1d" >0.0002</text>
<line x1="78.6" y1="573.0999999999999" x2="82.8" y2="573.0999999999999" stroke="#6a6a6a" stroke-width="1.3" />
<text x="71.9" y="576.9999999999999" font-size="11.6" text-anchor="end" fill="#1d1d1d" >0.0001</text>
<line x1="82.8" y1="410.5" x2="82.8" y2="573.7" stroke="#6a6a6a" stroke-width="1.3" />
<line x1="82.2" y1="573.1" x2="282.7" y2="573.1" stroke="#6a6a6a" stroke-width="1.3" />
<line x1="122.8" y1="573.1" x2="122.8" y2="576.6" stroke="#6a6a6a" stroke-width="1.3" />
<line x1="162.8" y1="573.1" x2="162.8" y2="576.6" stroke="#6a6a6a" stroke-width="1.3" />
<line x1="202.8" y1="573.1" x2="202.8" y2="576.6" stroke="#6a6a6a" stroke-width="1.3" />
<line x1="242.8" y1="573.1" x2="242.8" y2="576.6" stroke="#6a6a6a" stroke-width="1.3" />
<line x1="282.7" y1="573.1" x2="282.7" y2="576.6" stroke="#6a6a6a" stroke-width="1.3" />
<text x="102.2" y="590.2" font-size="11.6" text-anchor="middle" fill="#1d1d1d" >0</text>
<text x="142.6" y="590.2" font-size="11.6" text-anchor="middle" fill="#1d1d1d" >2</text>
<text x="182.6" y="590.2" font-size="11.6" text-anchor="middle" fill="#1d1d1d" >4</text>
<text x="222.6" y="590.2" font-size="11.6" text-anchor="middle" fill="#1d1d1d" >6</text>
<text x="262.6" y="590.2" font-size="11.6" text-anchor="middle" fill="#1d1d1d" >8</text>
<text x="86.2" y="609.2" font-size="13.0" text-anchor="start" fill="#1d1d1d" >Cycloheximide Exposure Time (h)</text>
<text transform="translate(30.8 578.2) rotate(-90)" font-size="13.1" fill="#1d1d1d">Securin Signal (Normalized)</text>
<polyline points="101.5,442.1 143.4,474.8 182.7,467.6 223.6,492.2 263.5,486.3" fill="none" stroke="#5b8ef0" stroke-width="3.2" stroke-linejoin="round" stroke-linecap="round"/>
<line x1="101.5" y1="451.3" x2="263.5" y2="493.8" stroke="#5078d0" stroke-width="2" stroke-dasharray="1.8 2.2"/>
<polyline points="101.8,526.2 143.2,549.2 182.7,555.6 222.6,562.5 263.5,562.2" fill="none" stroke="#f0981a" stroke-width="3.2" stroke-linejoin="round" stroke-linecap="round"/>
<line x1="101.5" y1="534.6" x2="263.5" y2="568" stroke="#e09a20" stroke-width="2" stroke-dasharray="1.8 2.2"/>
<rect x="92.7" y="398.8" width="8.5" height="8.6" fill="#5b8ef0" stroke="#2a2a3a" stroke-width="1.1"/>
<rect x="92.7" y="413.6" width="8.5" height="8.7" fill="#f5a000" stroke="#3a2a1a" stroke-width="1.1"/>
<text x="110" y="406.6" font-size="11.7" text-anchor="start" fill="#1d1d1d" >0 µg/cm² zinc chromate</text>
<text x="110" y="421" font-size="11.7" text-anchor="start" fill="#1d1d1d" >0.2 µg/cm² zinc chromate</text>
<rect x="191.5" y="442" width="91.5" height="13" fill="#fff" />
<rect x="205" y="541.5" width="66" height="12" fill="#fff" />
<text x="193.2" y="452.1" font-size="11.7" fill="#1d1d1d">y = 0.0042e<tspan font-size="7.5" dy="-4.5">-0.301x</tspan></text>
<text x="205.6" y="464.8" font-size="11.7" text-anchor="start" fill="#1d1d1d" >R² = 0.7709</text>
<text x="195.8" y="538.6" font-size="11.7" fill="#1d1d1d">y = 0.0004e<tspan font-size="7.5" dy="-4.5">-0.246x</tspan></text>
<text x="209.3" y="551.2" font-size="11.7" text-anchor="start" fill="#1d1d1d" >R² = 0.8446</text>
<text x="302.4" y="400.6" font-size="16.2" text-anchor="start" fill="#1d1d1d" >E.</text>
<line x1="344.6" y1="568.5" x2="348.3" y2="568.5" stroke="#111" stroke-width="1.3" />
<text x="338.3" y="572.2" font-size="12" text-anchor="end" fill="#1d1d1d" >0.0</text>
<line x1="344.6" y1="537.76" x2="348.3" y2="537.76" stroke="#111" stroke-width="1.3" />
<text x="338.3" y="541.46" font-size="12" text-anchor="end" fill="#1d1d1d" >0.5</text>
<line x1="344.6" y1="507.02" x2="348.3" y2="507.02" stroke="#111" stroke-width="1.3" />
<text x="338.3" y="510.71999999999997" font-size="12" text-anchor="end" fill="#1d1d1d" >1.0</text>
<line x1="344.6" y1="476.28" x2="348.3" y2="476.28" stroke="#111" stroke-width="1.3" />
<text x="338.3" y="479.97999999999996" font-size="12" text-anchor="end" fill="#1d1d1d" >1.5</text>
<line x1="344.6" y1="445.54" x2="348.3" y2="445.54" stroke="#111" stroke-width="1.3" />
<text x="338.3" y="449.24" font-size="12" text-anchor="end" fill="#1d1d1d" >2.0</text>
<line x1="344.6" y1="414.8" x2="348.3" y2="414.8" stroke="#111" stroke-width="1.3" />
<text x="338.3" y="418.5" font-size="12" text-anchor="end" fill="#1d1d1d" >2.5</text>
<line x1="348.3" y1="414" x2="348.3" y2="569.2" stroke="#111" stroke-width="1.4" />
<line x1="347.6" y1="568.5" x2="542.8" y2="568.5" stroke="#111" stroke-width="1.4" />
<line x1="348.3" y1="568.5" x2="348.3" y2="572.4" stroke="#111" stroke-width="1.3" />
<line x1="413" y1="568.5" x2="413" y2="572.4" stroke="#111" stroke-width="1.3" />
<line x1="477.7" y1="568.5" x2="477.7" y2="572.4" stroke="#111" stroke-width="1.3" />
<line x1="542.3" y1="568.5" x2="542.3" y2="572.4" stroke="#111" stroke-width="1.3" />
<text x="380.5" y="586.7" font-size="12" text-anchor="middle" fill="#1d1d1d" >24</text>
<text x="445.6" y="586.7" font-size="12" text-anchor="middle" fill="#1d1d1d" >72</text>
<text x="510.5" y="586.7" font-size="12" text-anchor="middle" fill="#1d1d1d" >120</text>
<text x="372.6" y="604.5" font-size="13.1" text-anchor="start" fill="#1d1d1d" >Cr(VI) Exposure Time (h)</text>
<text transform="translate(315.4 578.9) rotate(-90)" font-size="13.05" fill="#1d1d1d">Securin Protein Half-Life (h)</text>
<line x1="371.2" y1="453" x2="371.2" y2="465.2" stroke="#333" stroke-width="1.2" />
<line x1="368.2" y1="453" x2="374.2" y2="453" stroke="#333" stroke-width="1.2" />
<rect x="361.9" y="465.2" width="18.6" height="103.30000000000001" fill="#6495f5" stroke="#222" stroke-width="0.9"/>
<line x1="389.8" y1="439.3" x2="389.8" y2="451.2" stroke="#333" stroke-width="1.2" />
<line x1="386.8" y1="439.3" x2="392.8" y2="439.3" stroke="#333" stroke-width="1.2" />
<rect x="380.5" y="451.2" width="18.6" height="117.30000000000001" fill="#ff9a05" stroke="#222" stroke-width="0.9"/>
<line x1="436.6" y1="442.3" x2="436.6" y2="445.6" stroke="#333" stroke-width="1.2" />
<line x1="433.6" y1="442.3" x2="439.6" y2="442.3" stroke="#333" stroke-width="1.2" />
<rect x="427.3" y="445.6" width="18.6" height="122.89999999999998" fill="#6495f5" stroke="#222" stroke-width="0.9"/>
<line x1="454.90000000000003" y1="453.8" x2="454.90000000000003" y2="476.7" stroke="#333" stroke-width="1.2" />
<line x1="451.90000000000003" y1="453.8" x2="457.90000000000003" y2="453.8" stroke="#333" stroke-width="1.2" />
<rect x="445.6" y="476.7" width="18.6" height="91.80000000000001" fill="#ff9a05" stroke="#222" stroke-width="0.9"/>
<line x1="500.7" y1="439" x2="500.7" y2="458.9" stroke="#333" stroke-width="1.2" />
<line x1="497.7" y1="439" x2="503.7" y2="439" stroke="#333" stroke-width="1.2" />
<rect x="491.4" y="458.9" width="18.6" height="109.60000000000002" fill="#6495f5" stroke="#222" stroke-width="0.9"/>
<line x1="519.3" y1="421.5" x2="519.3" y2="449.5" stroke="#333" stroke-width="1.2" />
<line x1="516.3" y1="421.5" x2="522.3" y2="421.5" stroke="#333" stroke-width="1.2" />
<rect x="510" y="449.5" width="18.6" height="119.0" fill="#ff9a05" stroke="#222" stroke-width="0.9"/>
<rect x="360.7" y="398.7" width="8.5" height="8.7" fill="#6495f5" stroke="#222" stroke-width="1.1"/>
<rect x="360.7" y="413.5" width="8.5" height="8.8" fill="#ff9a05" stroke="#222" stroke-width="1.1"/>
<text x="378" y="406.7" font-size="11.7" text-anchor="start" fill="#1d1d1d" >0 µg/cm² zinc chromate</text>
<text x="378" y="420.8" font-size="11.7" text-anchor="start" fill="#1d1d1d" >0.2 µg/cm² zinc chromate</text>
</svg>
</body></html>
